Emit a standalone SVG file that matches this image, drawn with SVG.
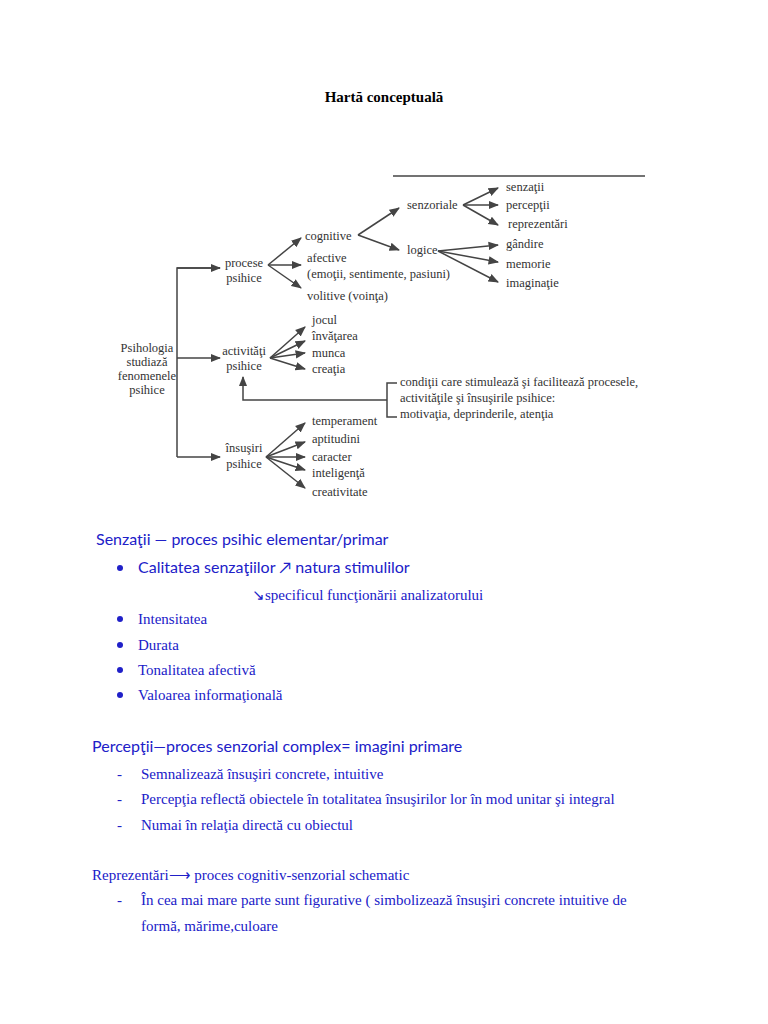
<svg xmlns="http://www.w3.org/2000/svg" width="768" height="1024" viewBox="0 0 768 1024">
<style>
.d{font-family:"Liberation Serif",serif;font-size:12.5px;fill:#333}
.c{text-anchor:middle}
.b{font-family:"Liberation Serif",serif;font-size:15px;fill:#2020c8}
.s{font-family:Lato,"Open Sans",sans-serif;font-size:16px;fill:#2020c8}
.l{stroke:#444;stroke-width:1.5;fill:none}
</style>
<defs><marker id="a" viewBox="0 0 10 10" refX="9" refY="5" markerWidth="7" markerHeight="7" orient="auto"><path d="M0,1 L10,5 L0,9 z" fill="#444"/></marker></defs>
<rect width="768" height="1024" fill="#fff"/>
<text x="384" y="102" text-anchor="middle" font-family="Liberation Serif,serif" font-size="15" font-weight="bold">Hartă conceptuală</text>
<g id="connectors">
<path class="l" d="M393 176 L645 176" stroke-width="2"/>
<path class="l" d="M220 268 L177 268 L177 457"/>
<path class="l" d="M177 268 L220 268" marker-end="url(#a)"/>
<path class="l" d="M177 358 L220 358" marker-end="url(#a)"/>
<path class="l" d="M177 457 L220 457" marker-end="url(#a)"/>
<path class="l" d="M268 265 L301 238" marker-end="url(#a)"/>
<path class="l" d="M268 265 L301 265" marker-end="url(#a)"/>
<path class="l" d="M268 265 L301 288" marker-end="url(#a)"/>
<path class="l" d="M358 235 L399 208" marker-end="url(#a)"/>
<path class="l" d="M358 235 L399 250" marker-end="url(#a)"/>
<path class="l" d="M463 205 L498 188" marker-end="url(#a)"/>
<path class="l" d="M463 205 L498 205" marker-end="url(#a)"/>
<path class="l" d="M463 205 L498 225" marker-end="url(#a)"/>
<path class="l" d="M438 251 L498 245" marker-end="url(#a)"/>
<path class="l" d="M438 251 L498 262" marker-end="url(#a)"/>
<path class="l" d="M438 251 L498 282" marker-end="url(#a)"/>
<path class="l" d="M270 358 L305 327" marker-end="url(#a)"/>
<path class="l" d="M270 358 L305 341" marker-end="url(#a)"/>
<path class="l" d="M270 358 L305 353" marker-end="url(#a)"/>
<path class="l" d="M270 358 L305 369" marker-end="url(#a)"/>
<path class="l" d="M387 400 L243 400 L243 377" marker-end="url(#a)"/>
<path class="l" d="M397 383 L387 383 L387 417 L397 417"/>
<path class="l" d="M266 457 L305 423" marker-end="url(#a)"/>
<path class="l" d="M266 457 L305 442" marker-end="url(#a)"/>
<path class="l" d="M266 457 L305 457" marker-end="url(#a)"/>
<path class="l" d="M266 457 L305 470" marker-end="url(#a)"/>
<path class="l" d="M266 457 L305 488" marker-end="url(#a)"/>
</g>
<g id="root"><text class="d c" x="147" y="352">Psihologia</text><text class="d c" x="147" y="366">studiază</text><text class="d c" x="147" y="380">fenomenele</text><text class="d c" x="147" y="394">psihice</text></g>
<g id="procese"><text class="d c" x="244" y="267">procese</text><text class="d c" x="244" y="282">psihice</text></g>
<g id="activitati"><text class="d c" x="244" y="355">activităţi</text><text class="d c" x="244" y="370">psihice</text></g>
<g id="insusiri"><text class="d c" x="244" y="452">însuşiri</text><text class="d c" x="244" y="468">psihice</text></g>
<g id="cognitive"><text class="d" x="305" y="240">cognitive</text></g>
<g id="afective"><text class="d" x="307" y="262">afective</text><text class="d" x="307" y="278">(emoţii, sentimente, pasiuni)</text></g>
<g id="volitive"><text class="d" x="307" y="300">volitive (voinţa)</text></g>
<g id="senzoriale"><text class="d" x="407" y="209">senzoriale</text></g>
<g id="logice"><text class="d" x="407" y="254">logice</text></g>
<g id="s1"><text class="d" x="506" y="191">senzaţii</text></g>
<g id="s2"><text class="d" x="506" y="209">percepţii</text></g>
<g id="s3"><text class="d" x="508" y="228">reprezentări</text></g>
<g id="l1"><text class="d" x="506" y="248">gândire</text></g>
<g id="l2"><text class="d" x="506" y="268">memorie</text></g>
<g id="l3"><text class="d" x="506" y="287">imaginaţie</text></g>
<g id="a1"><text class="d" x="312" y="324">jocul</text></g>
<g id="a2"><text class="d" x="312" y="340">învăţarea</text></g>
<g id="a3"><text class="d" x="312" y="357">munca</text></g>
<g id="a4"><text class="d" x="312" y="373">creaţia</text></g>
<g id="conditii"><text class="d" x="400" y="386">condiţii care stimulează şi facilitează procesele,</text><text class="d" x="400" y="402">activităţile şi însuşirile psihice:</text><text class="d" x="400" y="418">motivaţia, deprinderile, atenţia</text></g>
<g id="i1"><text class="d" x="312" y="425">temperament</text></g>
<g id="i2"><text class="d" x="312" y="443">aptitudini</text></g>
<g id="i3"><text class="d" x="312" y="461">caracter</text></g>
<g id="i4"><text class="d" x="312" y="477">inteligenţă</text></g>
<g id="i5"><text class="d" x="312" y="496">creativitate</text></g>
<g id="notes">
<text class="s" x="96" y="545">Senzaţii — proces psihic elementar/primar</text>
<circle cx="120" cy="568" r="3" fill="#2020c8"/><text class="s" x="138" y="573">Calitatea senzaţiilor ↗ natura stimulilor</text>
<text class="b" x="252" y="600">↘specificul funcţionării analizatorului</text>
<circle cx="120" cy="619" r="3" fill="#2020c8"/><text class="b" x="138" y="624">Intensitatea</text>
<circle cx="120" cy="645" r="3" fill="#2020c8"/><text class="b" x="138" y="650">Durata</text>
<circle cx="120" cy="670" r="3" fill="#2020c8"/><text class="b" x="138" y="675">Tonalitatea afectivă</text>
<circle cx="120" cy="695" r="3" fill="#2020c8"/><text class="b" x="138" y="700">Valoarea informaţională</text>
<text class="s" x="92" y="752">Percepţii—proces senzorial complex= imagini primare</text>
<text class="b" x="117" y="779">-</text><text class="b" x="141" y="779">Semnalizează însuşiri concrete, intuitive</text>
<text class="b" x="117" y="804">-</text><text class="b" x="141" y="804">Percepţia reflectă obiectele în totalitatea însuşirilor lor în mod unitar şi integral</text>
<text class="b" x="117" y="830">-</text><text class="b" x="141" y="830">Numai în relaţia directă cu obiectul</text>
<text class="b" x="92" y="880">Reprezentări⟶ proces cognitiv-senzorial schematic</text>
<text class="b" x="117" y="905">-</text><text class="b" x="141" y="905">În cea mai mare parte sunt figurative ( simbolizează însuşiri concrete intuitive de</text>
<text class="b" x="141" y="931">formă, mărime,culoare</text>
</g>
</svg>
